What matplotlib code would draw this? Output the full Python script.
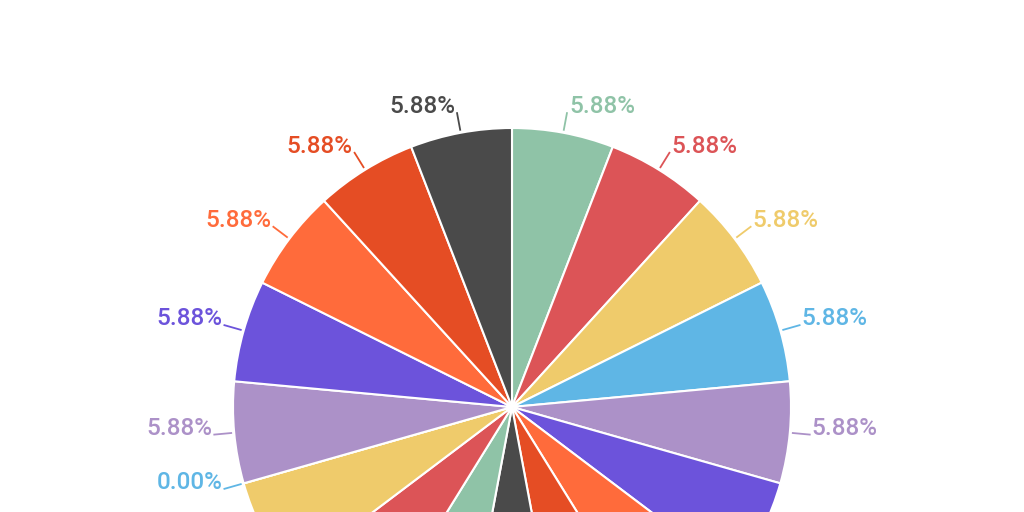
import numpy as np
import matplotlib
matplotlib.use("Agg")
import matplotlib.pyplot as plt

categories = [f"Item {i+1}" for i in range(18)]
values = [1, 1, 1, 1, 1, 1, 1, 1, 1, 1, 1, 1, 0, 1, 1, 1, 1, 1]
palette = ["#8fc3a7", "#dc5457", "#efcb6b", "#5fb6e5", "#ac91c8",
           "#6c53db", "#ff6b3b", "#e54d24", "#4a4a4a"]
colors = [palette[i % len(palette)] for i in range(len(values))]

W, H = 1024, 512
fig = plt.figure(figsize=(W / 100, H / 100), dpi=100)
ax = fig.add_axes([0, 0, 1, 1])

cx, cy, R = 512, 105, 279
wedges, _ = ax.pie(values, colors=colors, startangle=90, counterclock=False,
                   center=(cx, cy), radius=R, frame=True,
                   wedgeprops=dict(edgecolor="white", linewidth=1.5))
ax.set_xlim(0, W)
ax.set_ylim(0, H)
ax.set_aspect("equal")
ax.axis("off")

total = sum(values)
for w, v, c in zip(wedges, values, colors):
    mid = np.deg2rad((w.theta1 + w.theta2) / 2)
    dx, dy = np.cos(mid), np.sin(mid)
    x0, y0 = cx + (R + 3) * dx, cy + (R + 3) * dy
    x1, y1 = cx + (R + 20) * dx, cy + (R + 20) * dy
    if y1 < 10:
        continue  # label lies below the visible area
    ax.plot([x0, x1], [y0, y1], color=c, lw=1.3)
    ha = "left" if dx >= 0 else "right"
    off = 2 if dx >= 0 else -2
    ax.text(x1 + off, y1, f"{v / total * 100:.2f}%", color=c, ha=ha,
            va="baseline", fontsize=17.5, family="Roboto", fontweight="medium")

fig.savefig("out.png", dpi=100)
